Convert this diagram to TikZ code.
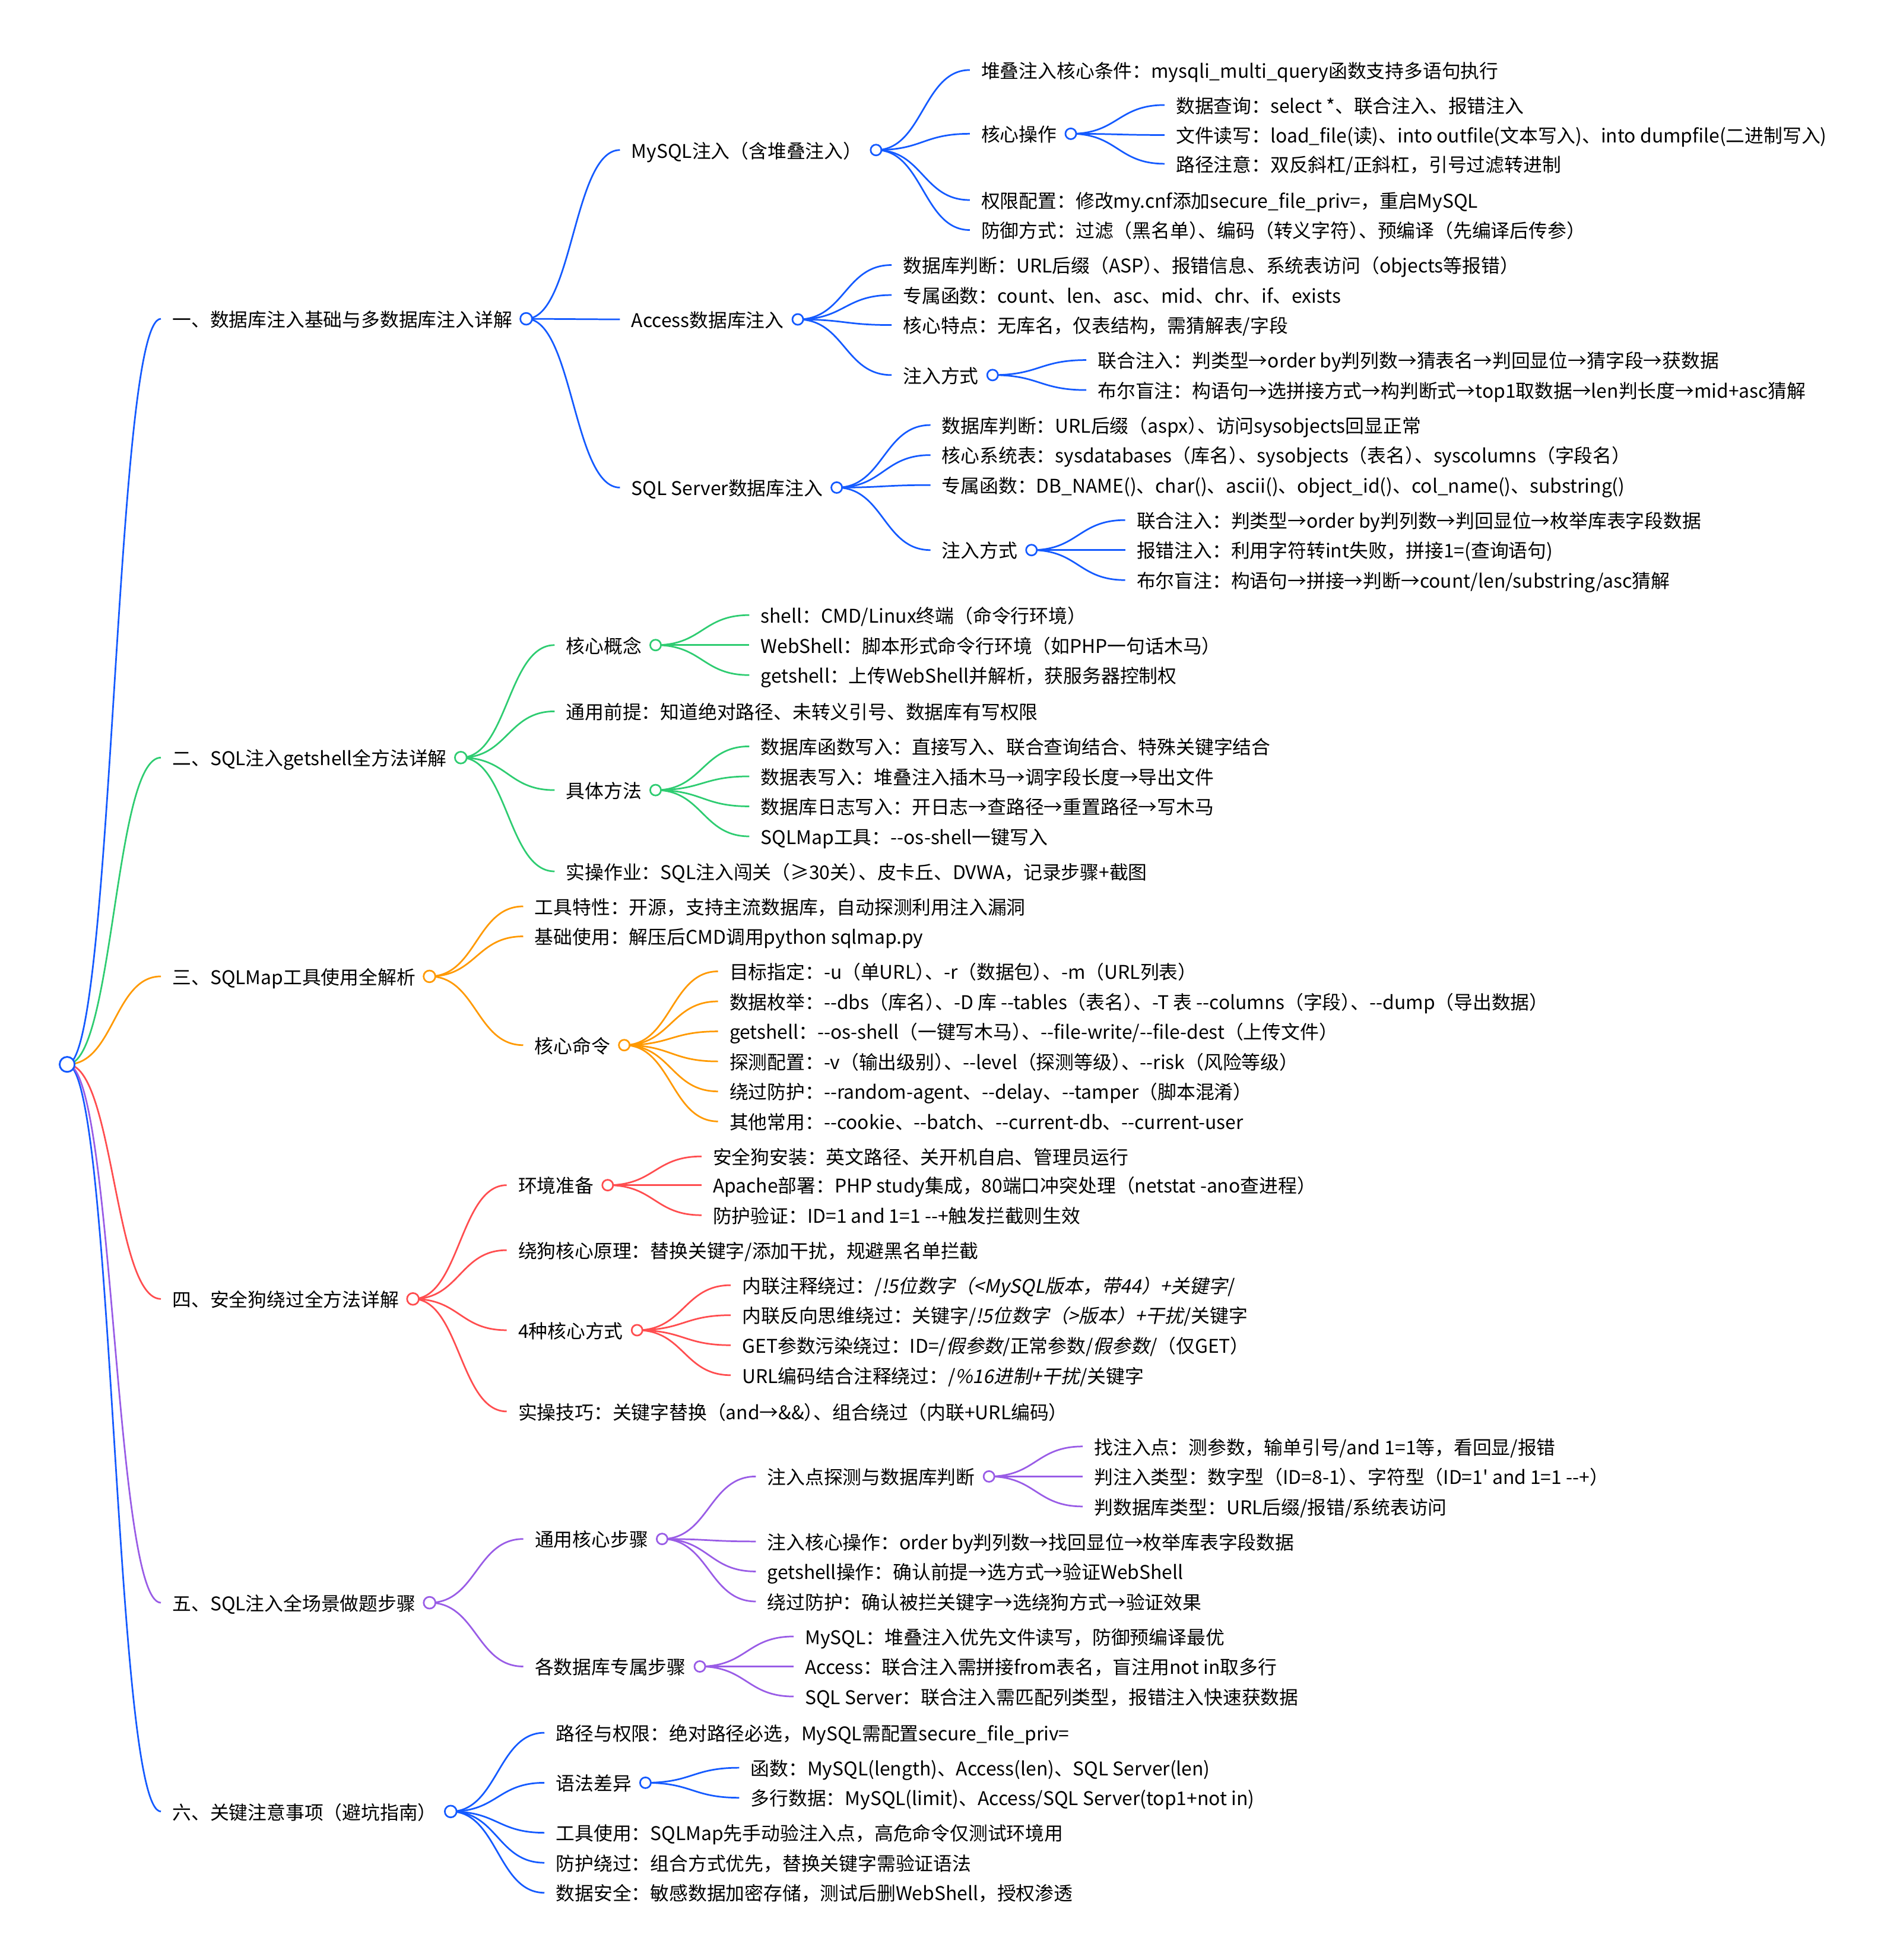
\documentclass[tikz,border=0pt]{standalone}
\usepackage{fontspec}
\setmainfont{Noto Sans CJK SC}[Ligatures=TeXOff]
\newfontfamily\slantfont{Noto Sans CJK SC}[Ligatures=TeXOff,FakeSlant=0.2]
\usetikzlibrary{backgrounds,calc}
\definecolor{mapblue}{RGB}{20,90,255}
\definecolor{mapgreen}{RGB}{46,204,113}
\definecolor{maporange}{RGB}{255,153,0}
\definecolor{mapred}{RGB}{255,77,79}
\definecolor{mappurple}{RGB}{153,92,230}
% closing bracket squeezed before a following comma
\newcommand{\cb}{\makebox[0.5em][l]{）}}

\tikzset{
  topic/.style={anchor=west, inner xsep=9pt, inner ysep=0pt, text height=15pt, text depth=2.4pt, font=\fontsize{15.1}{18}\selectfont},
  dot/.style={circle, draw=#1, fill=white, line width=1.3pt, minimum size=8.6pt, inner sep=0pt},
  branch/.style={draw=#1, line width=1.3pt, to path={let \p1=(\tikztostart), \p2=(\tikztotarget) in .. controls ({(\x1+\x2)/2},\y1) and ({(\x1+\x2)/2},\y2) .. (\tikztotarget)}}
}

\begin{document}
\begin{tikzpicture}[x=1pt,y=-1pt]
	% Fix the page to the size of the map.
	\useasboundingbox (0,0) rectangle (1507,1567.8);

	% The root, a bare circle.
	\node[dot=mapblue, minimum size=12pt, line width=1.4pt] (root) at (53.7,851.4) {};

	% First branch: database injection.
	\node[topic] (t1) at ([xshift=75pt]root.center |- 0,255) {一、数据库注入基础与多数据库注入详解};
	\node[dot=mapblue, minimum size=9.4pt] (d1) at ([xshift=2pt]t1.east) {};
	\node[topic] (t1a) at ([xshift=75pt]d1.center |- 0,120) {MySQL注入（含堆叠注入）};
	\node[dot=mapblue] (d1a) at ([xshift=2pt]t1a.east) {};
	\node[topic] (t1a1) at ([xshift=75pt]d1a.center |- 0,56) {堆叠注入核心条件：mysqli\_multi\_query函数支持多语句执行};
	\node[topic] (t1a2) at ([xshift=75pt]d1a.center |- 0,107) {核心操作};
	\node[dot=mapblue] (d1a2) at ([xshift=2pt]t1a2.east) {};
	\node[topic] (t1a2a) at ([xshift=75pt]d1a2.center |- 0,84) {数据查询：select *、联合注入、报错注入};
	\node[topic] (t1a2b) at ([xshift=75pt]d1a2.center |- 0,108) {文件读写：load\_file(读)、into outfile(文本写入)、into dumpfile(二进制写入)};
	\node[topic] (t1a2c) at ([xshift=75pt]d1a2.center |- 0,131) {路径注意：双反斜杠/正斜杠，引号过滤转进制};
	\node[topic] (t1a3) at ([xshift=75pt]d1a.center |- 0,160) {权限配置：修改my.cnf添加secure\_file\_priv=，重启MySQL};
	\node[topic] (t1a4) at ([xshift=75pt]d1a.center |- 0,184) {防御方式：过滤（黑名单\cb、编码（转义字符\cb、预编译（先编译后传参）};

	\node[topic] (t1b) at ([xshift=75pt]d1.center |- 0,255.5) {Access数据库注入};
	\node[dot=mapblue] (d1b) at ([xshift=2pt]t1b.east) {};
	\node[topic] (t1b1) at ([xshift=75pt]d1b.center |- 0,212) {数据库判断：URL后缀（ASP\cb、报错信息、系统表访问（objects等报错）};
	\node[topic] (t1b2) at ([xshift=75pt]d1b.center |- 0,236) {专属函数：count、len、asc、mid、chr、if、exists};
	\node[topic] (t1b3) at ([xshift=75pt]d1b.center |- 0,260) {核心特点：无库名，仅表结构，需猜解表/字段};
	\node[topic] (t1b4) at ([xshift=75pt]d1b.center |- 0,300) {注入方式};
	\node[dot=mapblue] (d1b4) at ([xshift=2pt]t1b4.east) {};
	\node[topic] (t1b4a) at ([xshift=75pt]d1b4.center |- 0,288) {联合注入：判类型→order by判列数→猜表名→判回显位→猜字段→获数据};
	\node[topic] (t1b4b) at ([xshift=75pt]d1b4.center |- 0,312) {布尔盲注：构语句→选拼接方式→构判断式→top1取数据→len判长度→mid+asc猜解};

	\node[topic] (t1c) at ([xshift=75pt]d1.center |- 0,390) {SQL Server数据库注入};
	\node[dot=mapblue] (d1c) at ([xshift=2pt]t1c.east) {};
	\node[topic] (t1c1) at ([xshift=75pt]d1c.center |- 0,340) {数据库判断：URL后缀（aspx\cb、访问sysobjects回显正常};
	\node[topic] (t1c2) at ([xshift=75pt]d1c.center |- 0,364) {核心系统表：sysdatabases（库名\cb、sysobjects（表名\cb、syscolumns（字段名）};
	\node[topic] (t1c3) at ([xshift=75pt]d1c.center |- 0,388) {专属函数：DB\_NAME()、char()、ascii()、object\_id()、col\_name()、substring()};
	\node[topic] (t1c4) at ([xshift=75pt]d1c.center |- 0,440) {注入方式};
	\node[dot=mapblue] (d1c4) at ([xshift=2pt]t1c4.east) {};
	\node[topic] (t1c4a) at ([xshift=75pt]d1c4.center |- 0,416) {联合注入：判类型→order by判列数→判回显位→枚举库表字段数据};
	\node[topic] (t1c4b) at ([xshift=75pt]d1c4.center |- 0,440) {报错注入：利用字符转int失败，拼接1=(查询语句)};
	\node[topic] (t1c4c) at ([xshift=75pt]d1c4.center |- 0,464) {布尔盲注：构语句→拼接→判断→count/len/substring/asc猜解};

	% Second branch: getshell.
	\node[topic] (t2) at ([xshift=75pt]root.center |- 0,606) {二、SQL注入getshell全方法详解};
	\node[dot=mapgreen, minimum size=9.4pt] (d2) at ([xshift=2pt]t2.east) {};
	\node[topic] (t2a) at ([xshift=75pt]d2.center |- 0,516) {核心概念};
	\node[dot=mapgreen] (d2a) at ([xshift=2pt]t2a.east) {};
	\node[topic] (t2a1) at ([xshift=75pt]d2a.center |- 0,492) {shell：CMD/Linux终端（命令行环境）};
	\node[topic] (t2a2) at ([xshift=75pt]d2a.center |- 0,516) {WebShell：脚本形式命令行环境（如PHP一句话木马）};
	\node[topic] (t2a3) at ([xshift=75pt]d2a.center |- 0,540) {getshell：上传WebShell并解析，获服务器控制权};
	\node[topic] (t2b) at ([xshift=75pt]d2.center |- 0,569) {通用前提：知道绝对路径、未转义引号、数据库有写权限};
	\node[topic] (t2c) at ([xshift=75pt]d2.center |- 0,632) {具体方法};
	\node[dot=mapgreen] (d2c) at ([xshift=2pt]t2c.east) {};
	\node[topic] (t2c1) at ([xshift=75pt]d2c.center |- 0,597) {数据库函数写入：直接写入、联合查询结合、特殊关键字结合};
	\node[topic] (t2c2) at ([xshift=75pt]d2c.center |- 0,621) {数据表写入：堆叠注入插木马→调字段长度→导出文件};
	\node[topic] (t2c3) at ([xshift=75pt]d2c.center |- 0,645) {数据库日志写入：开日志→查路径→重置路径→写木马};
	\node[topic] (t2c4) at ([xshift=75pt]d2c.center |- 0,669) {SQLMap工具：--os-shell一键写入};
	\node[topic] (t2d) at ([xshift=75pt]d2.center |- 0,697) {实操作业：SQL注入闯关（≥30关\cb、皮卡丘、DVWA，记录步骤+截图};

	% Third branch: SQLMap.
	\node[topic] (t3) at ([xshift=75pt]root.center |- 0,781) {三、SQLMap工具使用全解析};
	\node[dot=maporange, minimum size=9.4pt] (d3) at ([xshift=2pt]t3.east) {};
	\node[topic] (t3a) at ([xshift=75pt]d3.center |- 0,725) {工具特性：开源，支持主流数据库，自动探测利用注入漏洞};
	\node[topic] (t3b) at ([xshift=75pt]d3.center |- 0,749) {基础使用：解压后CMD调用python sqlmap.py};
	\node[topic] (t3c) at ([xshift=75pt]d3.center |- 0,836) {核心命令};
	\node[dot=maporange] (d3c) at ([xshift=2pt]t3c.east) {};
	\node[topic] (t3c1) at ([xshift=75pt]d3c.center |- 0,777) {目标指定：-u（单URL\cb、-r（数据包\cb、-m（URL列表）};
	\node[topic] (t3c2) at ([xshift=75pt]d3c.center |- 0,801) {数据枚举：--dbs（库名\cb、-D 库 --tables（表名\cb、-T 表 --columns（字段\cb、--dump（导出数据）};
	\node[topic] (t3c3) at ([xshift=75pt]d3c.center |- 0,825) {getshell：--os-shell（一键写木马\cb、--file-write/--file-dest（上传文件）};
	\node[topic] (t3c4) at ([xshift=75pt]d3c.center |- 0,849) {探测配置：-v（输出级别\cb、--level（探测等级\cb、--risk（风险等级）};
	\node[topic] (t3c5) at ([xshift=75pt]d3c.center |- 0,873) {绕过防护：--random-agent、--delay、--tamper（脚本混淆）};
	\node[topic] (t3c6) at ([xshift=75pt]d3c.center |- 0,897) {其他常用：--cookie、--batch、--current-db、--current-user};

	% Fourth branch: bypassing the WAF.
	\node[topic] (t4) at ([xshift=75pt]root.center |- 0,1039) {四、安全狗绕过全方法详解};
	\node[dot=mapred, minimum size=9.4pt] (d4) at ([xshift=2pt]t4.east) {};
	\node[topic] (t4a) at ([xshift=75pt]d4.center |- 0,948) {环境准备};
	\node[dot=mapred] (d4a) at ([xshift=2pt]t4a.east) {};
	\node[topic] (t4a1) at ([xshift=75pt]d4a.center |- 0,925) {安全狗安装：英文路径、关开机自启、管理员运行};
	\node[topic] (t4a2) at ([xshift=75pt]d4a.center |- 0,948) {Apache部署：PHP study集成，80端口冲突处理（netstat -ano查进程）};
	\node[topic] (t4a3) at ([xshift=75pt]d4a.center |- 0,972) {防护验证：ID=1 and 1=1 --+触发拦截则生效};
	\node[topic] (t4b) at ([xshift=75pt]d4.center |- 0,1000) {绕狗核心原理：替换关键字/添加干扰，规避黑名单拦截};
	\node[topic] (t4c) at ([xshift=75pt]d4.center |- 0,1064) {4种核心方式};
	\node[dot=mapred] (d4c) at ([xshift=2pt]t4c.east) {};
	\node[topic] (t4c1) at ([xshift=75pt]d4c.center |- 0,1028) {内联注释绕过：/{\slantfont !5位数字（<MySQL版本，带44）+关键字}/};
	\node[topic] (t4c2) at ([xshift=75pt]d4c.center |- 0,1052) {内联反向思维绕过：关键字/{\slantfont !5位数字（>版本）+干扰}/关键字};
	\node[topic] (t4c3) at ([xshift=75pt]d4c.center |- 0,1076) {GET参数污染绕过：ID=/{\slantfont 假参数}/正常参数/{\slantfont 假参数}/（仅GET）};
	\node[topic] (t4c4) at ([xshift=75pt]d4c.center |- 0,1100) {URL编码结合注释绕过：/{\slantfont \%16进制+干扰}/关键字};
	\node[topic] (t4d) at ([xshift=75pt]d4.center |- 0,1129) {实操技巧：关键字替换（and→\&\&\cb、组合绕过（内联+URL编码）};

	% Fifth branch: solving steps.
	\node[topic] (t5) at ([xshift=75pt]root.center |- 0,1282) {五、SQL注入全场景做题步骤};
	\node[dot=mappurple, minimum size=9.4pt] (d5) at ([xshift=2pt]t5.east) {};
	\node[topic] (t5a) at ([xshift=75pt]d5.center |- 0,1231) {通用核心步骤};
	\node[dot=mappurple] (d5a) at ([xshift=2pt]t5a.east) {};
	\node[topic] (t5a1) at ([xshift=75pt]d5a.center |- 0,1181) {注入点探测与数据库判断};
	\node[dot=mappurple] (d5a1) at ([xshift=2pt]t5a1.east) {};
	\node[topic] (t5a1a) at ([xshift=75pt]d5a1.center |- 0,1157) {找注入点：测参数，输单引号/and 1=1等，看回显/报错};
	\node[topic] (t5a1b) at ([xshift=75pt]d5a1.center |- 0,1181) {判注入类型：数字型（ID=8-1\cb、字符型（ID=1' and 1=1 --+）};
	\node[topic] (t5a1c) at ([xshift=75pt]d5a1.center |- 0,1205) {判数据库类型：URL后缀/报错/系统表访问};
	\node[topic] (t5a2) at ([xshift=75pt]d5a.center |- 0,1233) {注入核心操作：order by判列数→找回显位→枚举库表字段数据};
	\node[topic] (t5a3) at ([xshift=75pt]d5a.center |- 0,1257) {getshell操作：确认前提→选方式→验证WebShell};
	\node[topic] (t5a4) at ([xshift=75pt]d5a.center |- 0,1281) {绕过防护：确认被拦关键字→选绕狗方式→验证效果};
	\node[topic] (t5b) at ([xshift=75pt]d5.center |- 0,1333) {各数据库专属步骤};
	\node[dot=mappurple] (d5b) at ([xshift=2pt]t5b.east) {};
	\node[topic] (t5b1) at ([xshift=75pt]d5b.center |- 0,1309) {MySQL：堆叠注入优先文件读写，防御预编译最优};
	\node[topic] (t5b2) at ([xshift=75pt]d5b.center |- 0,1333) {Access：联合注入需拼接from表名，盲注用not in取多行};
	\node[topic] (t5b3) at ([xshift=75pt]d5b.center |- 0,1357) {SQL Server：联合注入需匹配列类型，报错注入快速获数据};

	% Sixth branch: things to watch.
	\node[topic] (t6) at ([xshift=75pt]root.center |- 0,1449) {六、关键注意事项（避坑指南）};
	\node[dot=mapblue, minimum size=9.4pt] (d6) at ([xshift=2pt]t6.east) {};
	\node[topic] (t6a) at ([xshift=75pt]d6.center |- 0,1386) {路径与权限：绝对路径必选，MySQL需配置secure\_file\_priv=};
	\node[topic] (t6b) at ([xshift=75pt]d6.center |- 0,1426) {语法差异};
	\node[dot=mapblue] (d6b) at ([xshift=2pt]t6b.east) {};
	\node[topic] (t6b1) at ([xshift=75pt]d6b.center |- 0,1414) {函数：MySQL(length)、Access(len)、SQL Server(len)};
	\node[topic] (t6b2) at ([xshift=75pt]d6b.center |- 0,1438) {多行数据：MySQL(limit)、Access/SQL Server(top1+not in)};
	\node[topic] (t6c) at ([xshift=75pt]d6.center |- 0,1466) {工具使用：SQLMap先手动验注入点，高危命令仅测试环境用};
	\node[topic] (t6d) at ([xshift=75pt]d6.center |- 0,1490) {防护绕过：组合方式优先，替换关键字需验证语法};
	\node[topic] (t6e) at ([xshift=75pt]d6.center |- 0,1514) {数据安全：敏感数据加密存储，测试后删WebShell，授权渗透};

	% Draw the branches behind the circles.
	\begin{scope}[on background layer]
		\foreach \from/\to in {root/t1, d1/t1a, d1/t1b, d1/t1c, d1a/t1a1, d1a/t1a2, d1a/t1a3, d1a/t1a4, d1a2/t1a2a, d1a2/t1a2b, d1a2/t1a2c, d1b/t1b1, d1b/t1b2, d1b/t1b3, d1b/t1b4, d1b4/t1b4a, d1b4/t1b4b, d1c/t1c1, d1c/t1c2, d1c/t1c3, d1c/t1c4, d1c4/t1c4a, d1c4/t1c4b, d1c4/t1c4c, root/t6, d6/t6a, d6/t6b, d6/t6c, d6/t6d, d6/t6e, d6b/t6b1, d6b/t6b2}
			\draw[branch=mapblue] (\from.center) to (\to.west);
		\foreach \from/\to in {root/t2, d2/t2a, d2/t2b, d2/t2c, d2/t2d, d2a/t2a1, d2a/t2a2, d2a/t2a3, d2c/t2c1, d2c/t2c2, d2c/t2c3, d2c/t2c4}
			\draw[branch=mapgreen] (\from.center) to (\to.west);
		\foreach \from/\to in {root/t3, d3/t3a, d3/t3b, d3/t3c, d3c/t3c1, d3c/t3c2, d3c/t3c3, d3c/t3c4, d3c/t3c5, d3c/t3c6}
			\draw[branch=maporange] (\from.center) to (\to.west);
		\foreach \from/\to in {root/t4, d4/t4a, d4/t4b, d4/t4c, d4/t4d, d4a/t4a1, d4a/t4a2, d4a/t4a3, d4c/t4c1, d4c/t4c2, d4c/t4c3, d4c/t4c4}
			\draw[branch=mapred] (\from.center) to (\to.west);
		\foreach \from/\to in {root/t5, d5/t5a, d5/t5b, d5a/t5a1, d5a/t5a2, d5a/t5a3, d5a/t5a4, d5a1/t5a1a, d5a1/t5a1b, d5a1/t5a1c, d5b/t5b1, d5b/t5b2, d5b/t5b3}
			\draw[branch=mappurple] (\from.center) to (\to.west);
	\end{scope}
\end{tikzpicture}
\end{document}
